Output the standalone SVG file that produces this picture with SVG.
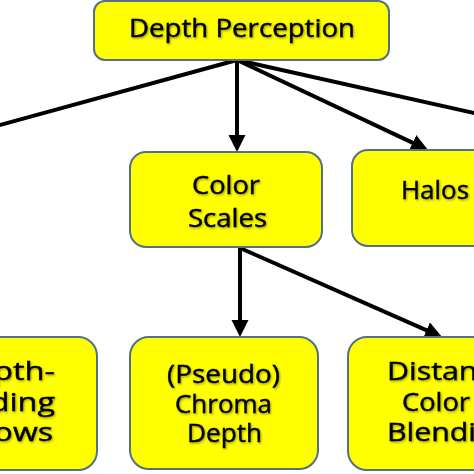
<svg xmlns="http://www.w3.org/2000/svg" width="474" height="474" viewBox="0 0 474 474">
<style>
.node rect{fill:#ffff00;stroke:#52708a;stroke-width:2}
.node text{font-family:"Open Sans","Liberation Sans",Arial,sans-serif;font-size:25px;fill:#000;stroke:#000;stroke-width:0.4;filter:url(#ts)}
.c{text-anchor:middle}
.s{text-anchor:start}
.e{text-anchor:end}
#connectors line{stroke:#000;stroke-width:4;fill:none}
</style>
<defs>
<filter id="ts" x="-10%" y="-20%" width="130%" height="150%">
<feDropShadow dx="1" dy="1.2" stdDeviation="0.9" flood-color="#000" flood-opacity="0.4"/>
</filter>
<marker id="ah" markerUnits="userSpaceOnUse" markerWidth="18" markerHeight="18" viewBox="0 0 18 18" refX="9" refY="8.5" orient="auto">
<path d="M0,0 L17,8.5 L0,17 Z" fill="#000"/>
</marker>
</defs>
<rect width="474" height="474" fill="#fff"/>
<g id="connectors">
<line x1="237" y1="60" x2="-20" y2="130.5"/>
<line x1="237" y1="60" x2="494" y2="117.5"/>
<line x1="237" y1="60" x2="237" y2="144" marker-end="url(#ah)"/>
<line x1="237" y1="60" x2="420.8" y2="146.6" marker-end="url(#ah)"/>
<line x1="240" y1="248" x2="240" y2="329" marker-end="url(#ah)"/>
<line x1="240" y1="248" x2="434.7" y2="333.8" marker-end="url(#ah)"/>
</g>
<g id="depth-perception" class="node">
<rect x="94" y="1" width="295" height="59" rx="11"/>
<text class="c" x="242" y="37" textLength="226" lengthAdjust="spacingAndGlyphs">Depth Perception</text>
</g>
<g id="color-scales" class="node">
<rect x="130" y="152" width="192" height="95" rx="16"/>
<text class="c" x="226" y="194" textLength="68" lengthAdjust="spacingAndGlyphs">Color</text>
<text class="c" x="227.5" y="227" textLength="79" lengthAdjust="spacingAndGlyphs">Scales</text>
</g>
<g id="halos" class="node">
<rect x="352" y="150" width="192" height="96" rx="16"/>
<text class="c" x="435" y="199" textLength="68" lengthAdjust="spacingAndGlyphs">Halos</text>
</g>
<g id="depth-encoding-shadows" class="node">
<rect x="-91" y="337" width="188" height="133" rx="19"/>
<text class="e" x="55" y="380" textLength="104" lengthAdjust="spacingAndGlyphs">Depth-</text>
<text class="e" x="55" y="411" textLength="138" lengthAdjust="spacingAndGlyphs">Encoding</text>
<text class="e" x="53" y="441" textLength="134" lengthAdjust="spacingAndGlyphs">Shadows</text>
</g>
<g id="pseudo-chroma-depth" class="node">
<rect x="130" y="337" width="188" height="132" rx="19"/>
<text class="c" x="223.5" y="383" textLength="113" lengthAdjust="spacingAndGlyphs">(Pseudo)</text>
<text class="c" x="223.5" y="413" textLength="97" lengthAdjust="spacingAndGlyphs">Chroma</text>
<text class="c" x="224.5" y="442" textLength="75" lengthAdjust="spacingAndGlyphs">Depth</text>
</g>
<g id="distance-color-blending" class="node">
<rect x="348" y="337" width="188" height="133" rx="19"/>
<text class="s" x="387" y="380" textLength="122" lengthAdjust="spacingAndGlyphs">Distance</text>
<text class="s" x="402" y="411" textLength="68" lengthAdjust="spacingAndGlyphs">Color</text>
<text class="s" x="387" y="441" textLength="124" lengthAdjust="spacingAndGlyphs">Blending</text>
</g>
</svg>
